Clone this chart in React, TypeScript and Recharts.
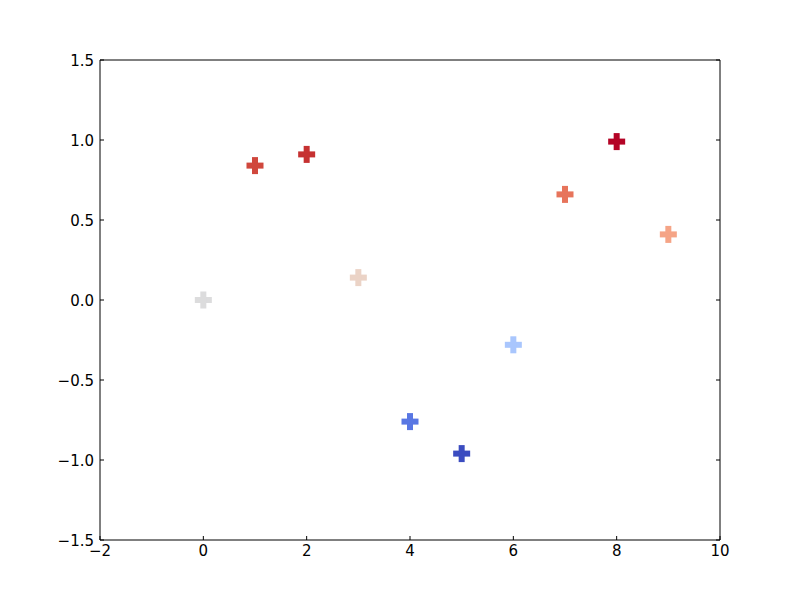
import { Cell, Scatter, ScatterChart, XAxis, YAxis } from 'recharts';

const xValues = [0, 1, 2, 3, 4, 5, 6, 7, 8, 9];
const yValues = [0.0, 0.84, 0.91, 0.14, -0.76, -0.96, -0.28, 0.66, 0.99, 0.41];
const pointColors = [
    '#dcdcdd',
    '#d0473d',
    '#c63131',
    '#ebd3c6',
    '#5977e3',
    '#3b4cc0',
    '#a9c6fd',
    '#e7745b',
    '#b40426',
    '#f5a486',
];

const xTicks = [-2, 0, 2, 4, 6, 8, 10];
const yTicks = [-1.5, -1.0, -0.5, 0.0, 0.5, 1.0, 1.5];
const xTickLabels = ['\u22122', '0', '2', '4', '6', '8', '10'];
const yTickLabels = ['\u22121.5', '\u22121.0', '\u22120.5', '0.0', '0.5', '1.0', '1.5'];

const points = xValues.map((x, i) => ({ x, y: yValues[i] }));

const FONT = '"DejaVu Sans", sans-serif';
const FONT_SIZE = 15;
const TICK_LEN = 4;

function PlusMarker(props: any) {
    const { cx, cy, fill } = props;
    if (cx == null || cy == null) return null;
    const half = 8.5;
    const arm = 3;
    return (
        <g>
            <rect x={cx - half} y={cy - arm} width={half * 2} height={arm * 2} fill={fill} />
            <rect x={cx - arm} y={cy - half} width={arm * 2} height={half * 2} fill={fill} />
        </g>
    );
}

function BottomTick({ x, y, payload }: any) {
    const idx = xTicks.indexOf(payload.value);
    return (
        <g>
            <line x1={x} y1={y} x2={x} y2={y - TICK_LEN} stroke="#000" />
            <text x={x} y={y + 16} textAnchor="middle" fontSize={FONT_SIZE} fontFamily={FONT} fill="#000">
                {xTickLabels[idx]}
            </text>
        </g>
    );
}

function LeftTick({ x, y, payload }: any) {
    const idx = yTicks.indexOf(payload.value);
    return (
        <g>
            <line x1={x} y1={y} x2={x + TICK_LEN} y2={y} stroke="#000" />
            <text x={x - 6} y={y + 5.5} textAnchor="end" fontSize={FONT_SIZE} fontFamily={FONT} fill="#000">
                {yTickLabels[idx]}
            </text>
        </g>
    );
}

function TopTick({ x, y }: any) {
    return <line x1={x} y1={y} x2={x} y2={y + TICK_LEN} stroke="#000" />;
}

function RightTick({ x, y }: any) {
    return <line x1={x} y1={y} x2={x - TICK_LEN} y2={y} stroke="#000" />;
}

export default function App() {
    return (
        <div style={{ position: 'absolute', left: 0, top: 0, width: 800, height: 600, background: '#fff' }}>
            <ScatterChart width={800} height={600} margin={{ top: 40, right: 60, bottom: 30, left: 40 }}>
                <XAxis
                    type="number"
                    dataKey="x"
                    domain={[-2, 10]}
                    ticks={xTicks}
                    allowDataOverflow
                    height={30}
                    tickSize={0}
                    tickMargin={0}
                    tickLine={false}
                    tick={<BottomTick />}
                    axisLine={{ stroke: '#000', strokeWidth: 1 }}
                />
                <XAxis
                    xAxisId="top"
                    orientation="top"
                    type="number"
                    domain={[-2, 10]}
                    ticks={xTicks}
                    allowDataOverflow
                    height={20}
                    tickSize={0}
                    tickMargin={0}
                    tickLine={false}
                    tick={<TopTick />}
                    axisLine={{ stroke: '#000', strokeWidth: 1 }}
                />
                <YAxis
                    type="number"
                    dataKey="y"
                    domain={[-1.5, 1.5]}
                    ticks={yTicks}
                    allowDataOverflow
                    width={60}
                    tickSize={0}
                    tickMargin={0}
                    tickLine={false}
                    tick={<LeftTick />}
                    axisLine={{ stroke: '#000', strokeWidth: 1 }}
                />
                <YAxis
                    yAxisId="right"
                    orientation="right"
                    type="number"
                    domain={[-1.5, 1.5]}
                    ticks={yTicks}
                    allowDataOverflow
                    width={20}
                    tickSize={0}
                    tickMargin={0}
                    tickLine={false}
                    tick={<RightTick />}
                    axisLine={{ stroke: '#000', strokeWidth: 1 }}
                />
                <Scatter data={points} shape={<PlusMarker />} isAnimationActive={false}>
                    {points.map((_, i) => (
                        <Cell key={i} fill={pointColors[i]} />
                    ))}
                </Scatter>
            </ScatterChart>
        </div>
    );
}
